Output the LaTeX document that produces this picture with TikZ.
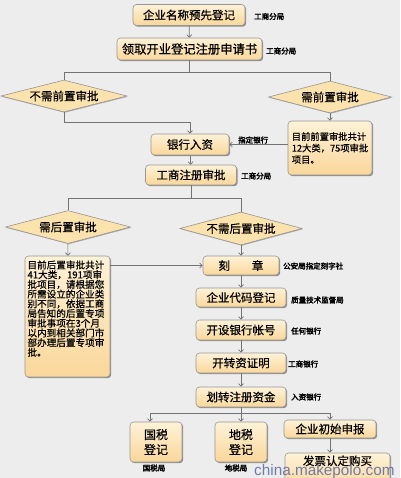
\documentclass[tikz,border=0pt]{standalone}
\usepackage{fontspec}
\setmainfont{Noto Sans CJK SC}
\newfontfamily\boxfont{Noto Sans CJK SC}[FakeBold=0.6]
\newfontfamily\labfont{Noto Sans CJK SC}[FakeBold=3]
\newfontfamily\wmfont{Liberation Sans}
\usetikzlibrary{shapes.geometric,arrows.meta,shadows}
\definecolor{bg}{RGB}{237,237,237}
\definecolor{boxtop}{RGB}{254,242,216}
\definecolor{boxbot}{RGB}{250,215,154}
\definecolor{diafill}{RGB}{252,226,172}
\definecolor{linec}{RGB}{115,115,115}
\definecolor{edgec}{RGB}{150,150,150}
\definecolor{wmc}{RGB}{85,105,165}
\begin{document}
\begin{tikzpicture}[x=1pt,y=-1pt,
  box/.style={draw=edgec, line width=0.6pt, rounded corners=3.5pt,
    top color=boxtop, bottom color=boxbot,
    drop shadow={shadow xshift=1.2pt, shadow yshift=-1.2pt, fill=black!60, opacity=0.7},
    inner sep=0pt, font=\boxfont\fontsize{11.5}{13}\selectfont},
  dia/.style={diamond, aspect=4, draw=edgec, line width=0.6pt, fill=diafill, inner sep=0.5pt,
    drop shadow={shadow xshift=0.8pt, shadow yshift=-0.8pt, fill=black!50, opacity=0.6},
    font=\boxfont\fontsize{11.5}{13}\selectfont},
  note/.style={box, font=\boxfont\fontsize{9.3}{11.5}\selectfont, align=left},
  lab/.style={font=\labfont\fontsize{7.5}{8}\selectfont, anchor=west, inner sep=0pt},
  ln/.style={draw=linec, line width=0.7pt},
  arr/.style={ln, -{Straight Barb[length=2.5pt,width=5pt]}},
]
\fill[bg] (0,0) rectangle (400,478);
\useasboundingbox (0,0) rectangle (400,478);

% main boxes
\node[box, minimum width=112pt, minimum height=21pt] (n1) at (189,15) {企业名称预先登记};
\node[box, minimum width=145pt, minimum height=22pt, font=\boxfont\fontsize{12.3}{13}\selectfont] (n2) at (189.5,49) {领取开业登记注册申请书};
\node[dia, minimum width=126pt, minimum height=32pt] (d1) at (64,96) {不需前置审批};
\node[dia, minimum width=123pt, minimum height=32pt] (d2) at (330,97) {需前置审批};
\node[box, minimum width=78pt, minimum height=21pt] (bank) at (190,144.5) {银行入资};
\node[note, minimum width=84pt, minimum height=54pt] (nr) at (330,148) {目前前置审批共计\\12大类，75项审批\\项目。};
\node[box, minimum width=91pt, minimum height=20pt] (reg) at (191,175) {工商注册审批};
\node[dia, minimum width=125pt, minimum height=33pt] (d3) at (68,227) {需后置审批};
\node[dia, minimum width=122pt, minimum height=33pt] (d4) at (241,228.5) {不需后置审批};
\node[note, minimum width=85pt, minimum height=121pt, font=\boxfont\fontsize{9.6}{9.7}\selectfont] (nl) at (67.5,316.5)
  {\parbox[c][112pt][t]{80pt}{目前后置审批共计\\41大类，191项审\\批项目，请根据您\\所需设立的企业类\\别不同，依据工商\\局告知的后置专项\\审批事项在3个月\\以内到相关部门市\\部办理后置专项审\\批。}};
\node[box, minimum width=76pt, minimum height=19pt] (seal) at (241,265.5) {刻\hspace{1.9em}章};
\node[box, minimum width=90pt, minimum height=19pt] (code) at (241,297.5) {企业代码登记};
\node[box, minimum width=90pt, minimum height=20pt] (acct) at (241,330) {开设银行帐号};
\node[box, minimum width=90pt, minimum height=20pt] (cert) at (241,363) {开转资证明};
\node[box, minimum width=90pt, minimum height=20pt] (xfer) at (241,397) {划转注册资金};
\node[box, minimum width=52pt, minimum height=40pt, align=center, font=\boxfont\fontsize{12}{15}\selectfont] (gs) at (156,442) {国税\\登记};
\node[box, minimum width=52pt, minimum height=40pt, align=center, font=\boxfont\fontsize{12}{15}\selectfont] (ds) at (241,442) {地税\\登记};
\node[box, minimum width=92pt, minimum height=18pt] (init) at (330,429) {企业初始申报};
\node[box, minimum width=105pt, minimum height=36pt] (inv) at (337.5,471) {\parbox[c][31pt][t]{80pt}{\centering 发票认定购买}};

% side labels
\node[lab] (l1) at (254,16.5) {工商分局};
\node[lab] (l2) at (266,51) {工商分局};
\node[lab] (l3) at (238,140) {指定银行};
\node[lab] (l4) at (241,176) {工商分局};
\node[lab] (l5) at (283,266) {公安局指定刻字社};
\node[lab] (l6) at (291,300) {质量技术监督局};
\node[lab] (l7) at (291,331) {任何银行};
\node[lab] (l8) at (288,364) {工商银行};
\node[lab] (l9) at (291,397) {入资银行};
\node[lab, anchor=center] (l10) at (154,468) {国税局};
\node[lab, anchor=center] (l11) at (236,468) {地税局};

% connectors
\draw[arr] (n1) -- (n2);
\draw[ln] (n2.south) -- ++(0,12) coordinate (t1);
\draw[ln] (d1.north) |- (t1) -| (d2.north);
\draw[ln] (d1.south) -- ++(0,10) coordinate (t2);
\draw[arr] (t2) -| (bank.north);
\draw[arr] (d2) -- (nr);
\draw[arr] (bank.east -| nr.west) -- (bank.east);
\draw[arr] (bank) -- (reg);
\draw[ln] (reg.south) -- ++(0,13) coordinate (t3);
\draw[ln] (t3) -| (d3.north);
\draw[ln] (t3) -| (d4.north);
\draw[arr] (d3) -- (nl);
\draw[arr] (d4) -- (seal);
\draw[arr] (seal.west -| nl.east) -- (seal.west);
\draw[arr] (seal) -- (code);
\draw[arr] (code) -- (acct);
\draw[arr] (acct) -- (cert);
\draw[arr] (cert) -- (xfer);
\draw[ln] (xfer.south) -- ++(0,6) coordinate (t4);
\draw[arr] (t4) -| ([xshift=-6pt]gs.north);
\draw[arr] (t4) -- (ds.north);
\draw[arr] (t4) -| (init.north);
\draw[arr] (init.south) -- (init.south |- inv.north);

% watermark
\node[font=\wmfont\fontsize{15.3}{16}\selectfont, text=wmc, text opacity=0.85, anchor=base west, inner sep=0pt] (wm) at (254,475) {china.makepolo.com};
\end{tikzpicture}
\end{document}
